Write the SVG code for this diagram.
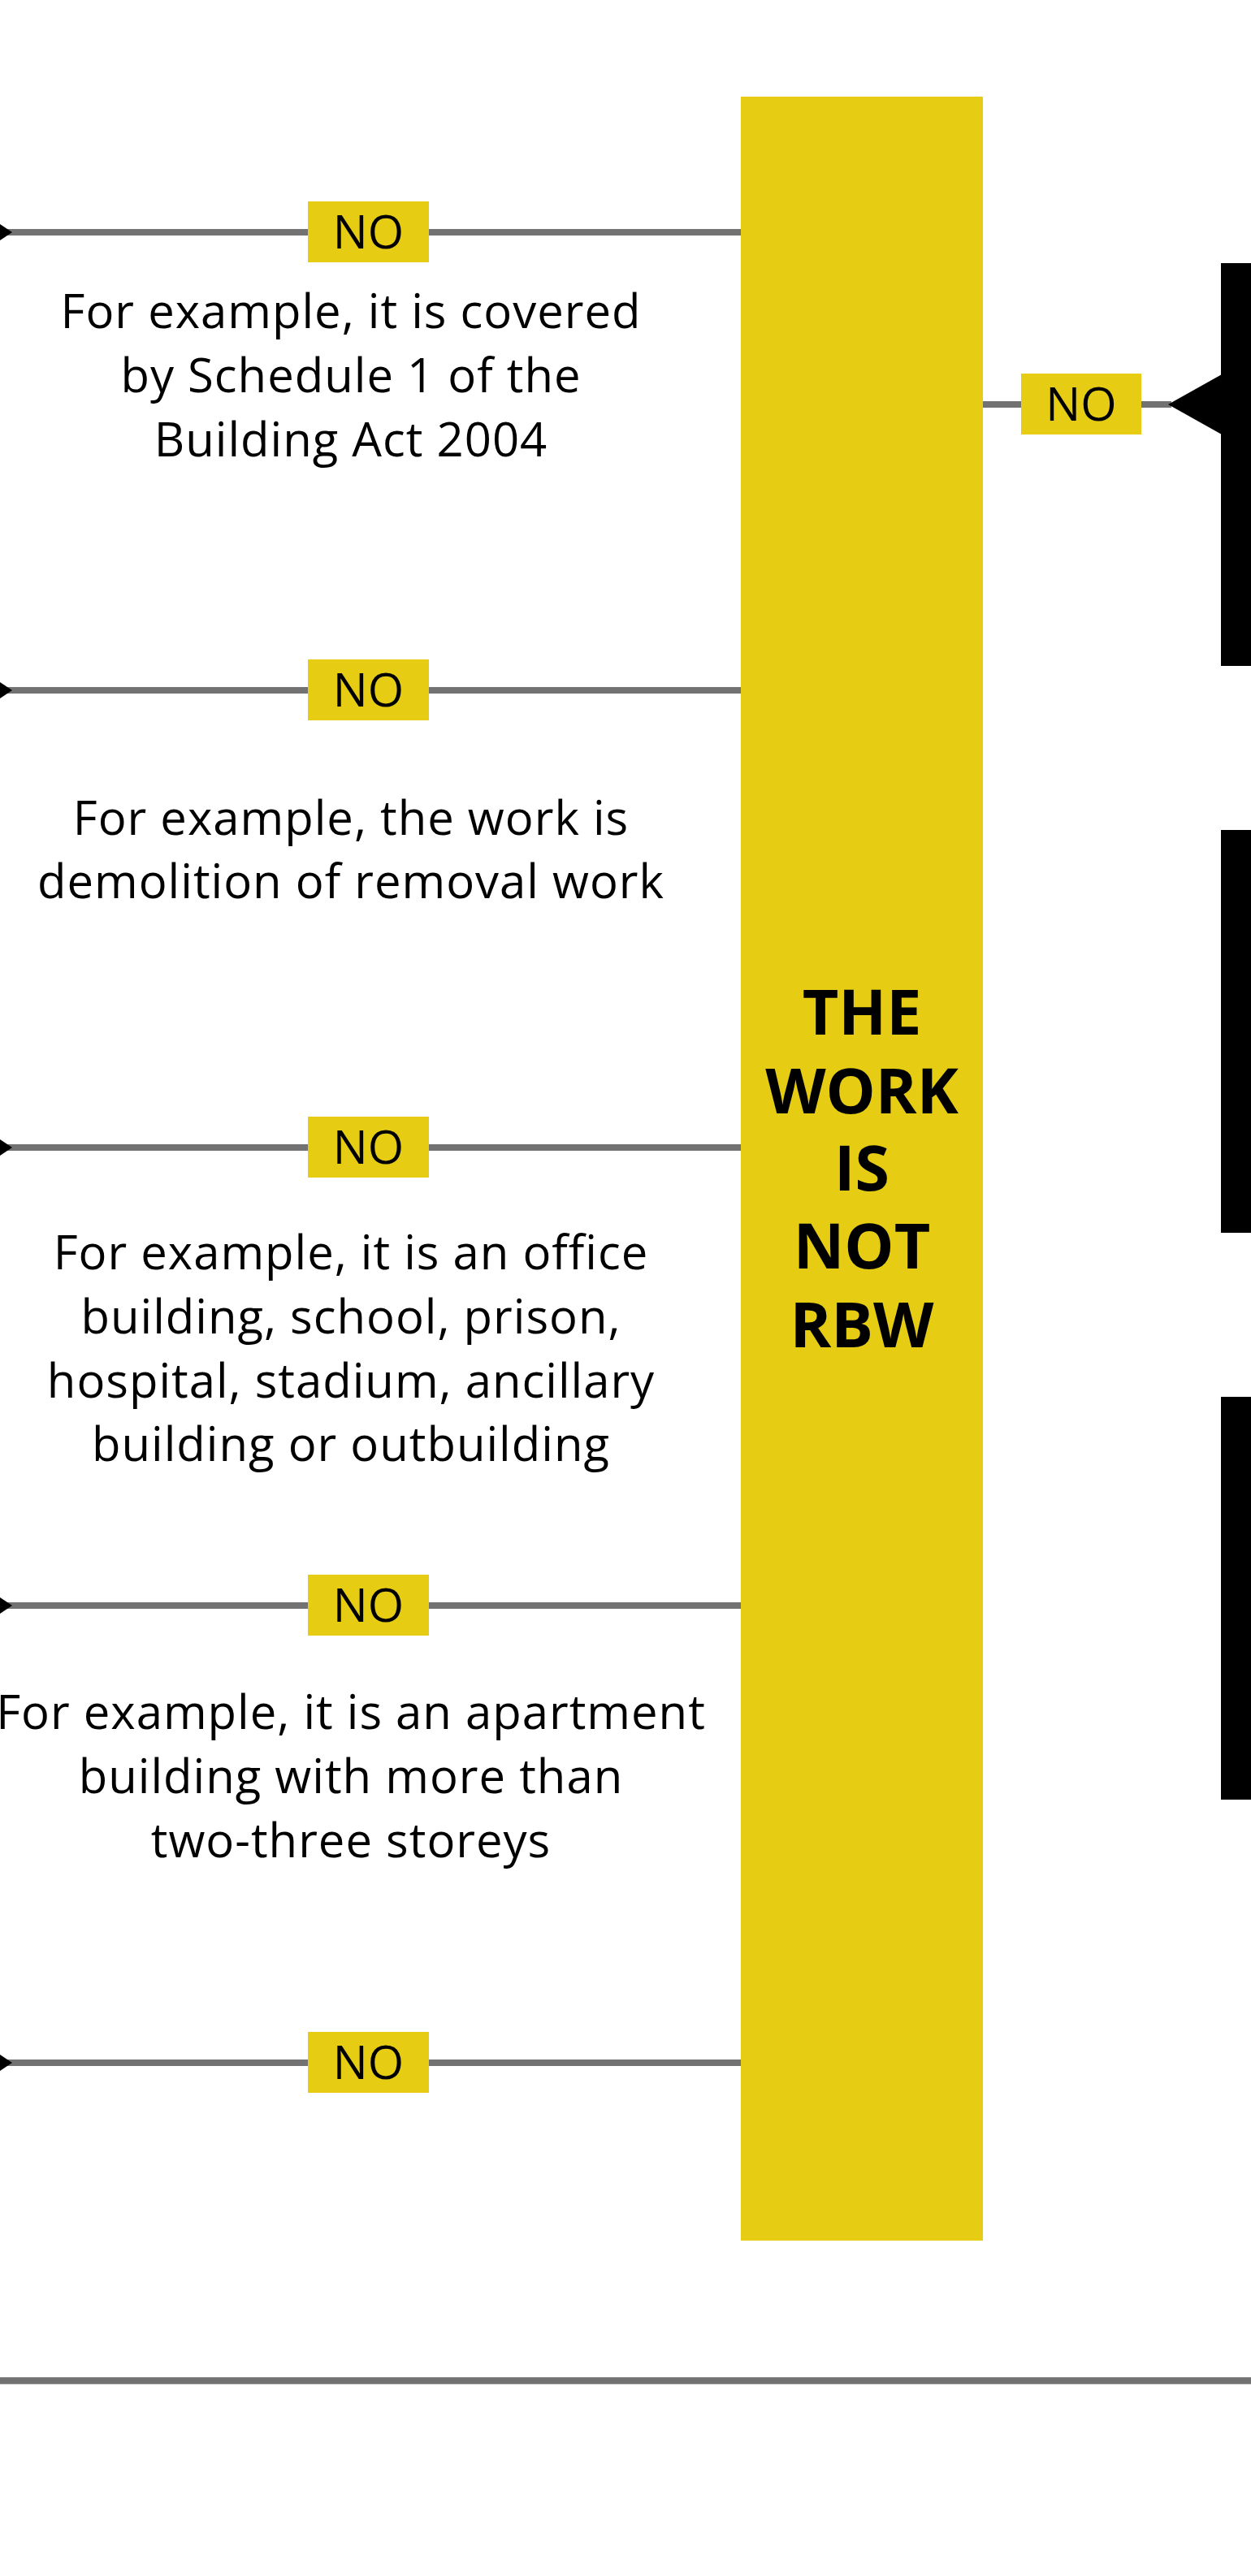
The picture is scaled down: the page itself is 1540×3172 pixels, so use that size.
<svg xmlns="http://www.w3.org/2000/svg" width="1540" height="3172" viewBox="0 0 1540 3172">
  <style>
    .conn { stroke: #727272; stroke-width: 8; fill: none; }
    .tip { fill: #000000; }
    .nobox { fill: #E6CD14; }
    .notext { font-family: "Open Sans", "Liberation Sans", sans-serif; font-size: 57px; fill: #000000; text-anchor: middle; }
    .body { font-family: "Open Sans", "Liberation Sans", sans-serif; font-size: 58px; letter-spacing: 1px; fill: #000000; text-anchor: middle; }
    .bar { fill: #E6CD14; }
    .bold { font-family: "Open Sans", "Liberation Sans", sans-serif; font-size: 77px; font-weight: bold; fill: #000000; text-anchor: middle; }
    .black { fill: #000000; }
  </style>
  <rect x="0" y="0" width="1540" height="3172" fill="#FFFFFF"/>

  <g id="connectors">
    <line class="conn" x1="0" y1="286" x2="912" y2="286"/>
    <polygon class="tip" points="0,276 15,286 0,296"/>
    <line class="conn" x1="0" y1="850" x2="912" y2="850"/>
    <polygon class="tip" points="0,840 15,850 0,860"/>
    <line class="conn" x1="0" y1="1413" x2="912" y2="1413"/>
    <polygon class="tip" points="0,1403 15,1413 0,1423"/>
    <line class="conn" x1="0" y1="1977" x2="912" y2="1977"/>
    <polygon class="tip" points="0,1967 15,1977 0,1987"/>
    <line class="conn" x1="0" y1="2540" x2="912" y2="2540"/>
    <polygon class="tip" points="0,2530 15,2540 0,2550"/>
    <line class="conn" x1="1210" y1="498" x2="1442" y2="498"/>
    <polygon class="tip" points="1438,498 1504,461 1504,535"/>
    <line class="conn" x1="0" y1="2931.5" x2="1540" y2="2931.5" style="stroke-width:8.5"/>
  </g>

  <g id="label-no-1">
    <rect class="nobox" x="379" y="248" width="149" height="75"/>
    <text class="notext" x="453.5" y="306">NO</text>
  </g>
  <g id="label-no-2">
    <rect class="nobox" x="379" y="812" width="149" height="75"/>
    <text class="notext" x="453.5" y="870">NO</text>
  </g>
  <g id="label-no-3">
    <rect class="nobox" x="379" y="1375" width="149" height="75"/>
    <text class="notext" x="453.5" y="1433">NO</text>
  </g>
  <g id="label-no-4">
    <rect class="nobox" x="379" y="1939" width="149" height="75"/>
    <text class="notext" x="453.5" y="1997">NO</text>
  </g>
  <g id="label-no-5">
    <rect class="nobox" x="379" y="2502" width="149" height="75"/>
    <text class="notext" x="453.5" y="2560">NO</text>
  </g>
  <g id="label-no-right">
    <rect class="nobox" x="1257" y="460" width="148" height="75"/>
    <text class="notext" x="1331" y="518">NO</text>
  </g>

  <g id="note-1">
    <text class="body" x="432" y="404">For example, it is covered</text>
    <text class="body" x="432" y="483">by Schedule 1 of the</text>
    <text class="body" x="432" y="562">Building Act 2004</text>
  </g>
  <g id="note-2">
    <text class="body" x="432" y="1028">For example, the work is</text>
    <text class="body" x="432" y="1106">demolition of removal work</text>
  </g>
  <g id="note-3">
    <text class="body" x="432" y="1563">For example, it is an office</text>
    <text class="body" x="432" y="1642">building, school, prison,</text>
    <text class="body" x="432" y="1721">hospital, stadium, ancillary</text>
    <text class="body" x="432" y="1799">building or outbuilding</text>
  </g>
  <g id="note-4">
    <text class="body" x="432" y="2129">For example, it is an apartment</text>
    <text class="body" x="432" y="2208">building with more than</text>
    <text class="body" x="432" y="2287">two-three storeys</text>
  </g>

  <g id="node-not-rbw">
    <rect class="bar" x="912" y="119" width="298" height="2640"/>
    <text class="bold" x="1061" y="1274">THE</text>
    <text class="bold" x="1061" y="1371">WORK</text>
    <text class="bold" x="1061" y="1466">IS</text>
    <text class="bold" x="1061" y="1562">NOT</text>
    <text class="bold" x="1061" y="1659">RBW</text>
  </g>

  <g id="node-right-1">
    <rect class="black" x="1503" y="324" width="37" height="496"/>
  </g>
  <g id="node-right-2">
    <rect class="black" x="1503" y="1022" width="37" height="496"/>
  </g>
  <g id="node-right-3">
    <rect class="black" x="1503" y="1720" width="37" height="496"/>
  </g>
</svg>
